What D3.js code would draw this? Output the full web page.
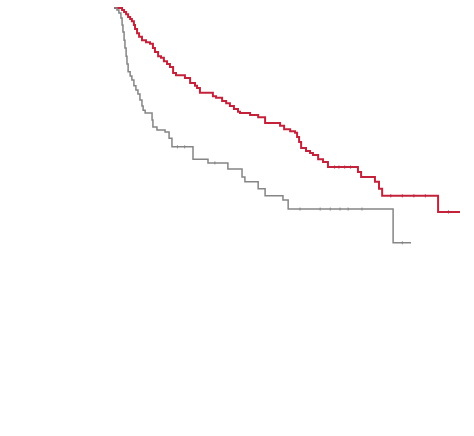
<!DOCTYPE html>
<html>
<head>
<meta charset="utf-8">
<script src="https://cdn.jsdelivr.net/npm/d3@7"></script>
<style>
  html, body { margin: 0; padding: 0; background: #fff; }
</style>
</head>
<body>
<div id="chart"></div>
<script>
// Event times (months) and survival after each step
const redTimes = [2.8, 3.5, 4.2, 4.9, 5.6, 6.2, 6.9, 7.3, 8.0, 8.7, 9.7, 11.1, 12.5, 13.5, 14.2, 15.3, 16.3, 17.3, 18.4, 19.4,
  20.5, 21.5, 24.6, 26.4, 28.1, 28.8, 29.8, 34.3, 35.4, 37.5, 38.9, 40.2, 41.6, 43.0, 43.7, 47.2, 50.0, 52.4, 57.6, 59.0,
  61.1, 62.8, 63.5, 64.2, 64.9, 66.6, 68.0, 69.0, 70.8, 72.5, 74.2, 84.6, 85.7, 90.5, 91.9, 93.0, 112.4];
const redSurv = [0.995, 0.990, 0.985, 0.978, 0.973, 0.968, 0.959, 0.949, 0.939, 0.930, 0.922, 0.917, 0.913, 0.903, 0.893, 0.883, 0.879, 0.871, 0.864, 0.857,
  0.842, 0.837, 0.830, 0.818, 0.811, 0.806, 0.794, 0.786, 0.782, 0.774, 0.769, 0.762, 0.755, 0.748, 0.745, 0.740, 0.735, 0.721, 0.714, 0.706,
  0.701, 0.697, 0.687, 0.675, 0.660, 0.653, 0.648, 0.643, 0.633, 0.626, 0.614, 0.602, 0.590, 0.578, 0.561, 0.544, 0.505];
const redEnd = 120.0;
const redCensor = [76.5, 78.0, 80.0, 82.0, 96.0, 100.0, 104.0, 108.0, 116.0];

const greyTimes = [1.0, 1.7, 2.4, 2.8, 3.1, 3.5, 3.8, 4.2, 4.5, 4.9, 5.6, 6.2, 6.9, 7.6, 8.3, 9.0, 9.7, 10.1, 10.8, 13.2,
  13.5, 14.9, 17.7, 19.1, 20.1, 27.4, 32.6, 39.5, 44.4, 45.4, 50.0, 52.4, 58.6, 60.4, 96.8];
const greySurv = [0.995, 0.988, 0.976, 0.959, 0.942, 0.922, 0.903, 0.883, 0.864, 0.845, 0.835, 0.825, 0.811, 0.801, 0.791, 0.777, 0.762, 0.752, 0.745, 0.728,
  0.711, 0.704, 0.699, 0.684, 0.663, 0.633, 0.624, 0.609, 0.590, 0.578, 0.561, 0.544, 0.534, 0.512, 0.430];
const greyEnd = 103.0;
const greyCensor = [22.0, 24.5, 35.0, 64.5, 71.5, 75.0, 78.4, 81.2, 86.0, 100.0];

const width = 474;
const height = 436;

const x = d3.scaleLinear().domain([0, 120]).range([114, 460]);
const y = d3.scaleLinear().domain([0, 1]).range([420, 8]);

const svg = d3.select('#chart')
  .append('svg')
  .attr('width', width)
  .attr('height', height);

// Build step series: start at (0, 1), one point per event, carry on to the last follow-up
function stepData(times, surv, end) {
  const pts = [{ t: 0, s: 1 }];
  times.forEach((t, i) => pts.push({ t, s: surv[i] }));
  pts.push({ t: end, s: surv[surv.length - 1] });
  return pts;
}

// Survival at a given time, for placing censor marks
function survAt(times, surv, t) {
  let s = 1;
  times.forEach((tt, i) => { if (tt <= t) s = surv[i]; });
  return s;
}

const line = d3.line()
  .x(d => x(d.t))
  .y(d => y(d.s))
  .curve(d3.curveStepAfter);

function drawCurve(times, surv, end, censor, color, strokeWidth) {
  svg.append('path')
    .datum(stepData(times, surv, end))
    .attr('fill', 'none')
    .attr('stroke', color)
    .attr('stroke-width', strokeWidth)
    .attr('d', line);

  svg.selectAll(null)
    .data(censor)
    .enter()
    .append('line')
    .attr('x1', d => x(d))
    .attr('x2', d => x(d))
    .attr('y1', d => y(survAt(times, surv, d)) - 1.5)
    .attr('y2', d => y(survAt(times, surv, d)) + 1.5)
    .attr('stroke', color)
    .attr('stroke-width', 1);
}

// Red first, grey on top
drawCurve(redTimes, redSurv, redEnd, redCensor, '#c4223b', 2);
drawCurve(greyTimes, greySurv, greyEnd, greyCensor, '#858585', 1.5);
</script>
</body>
</html>
